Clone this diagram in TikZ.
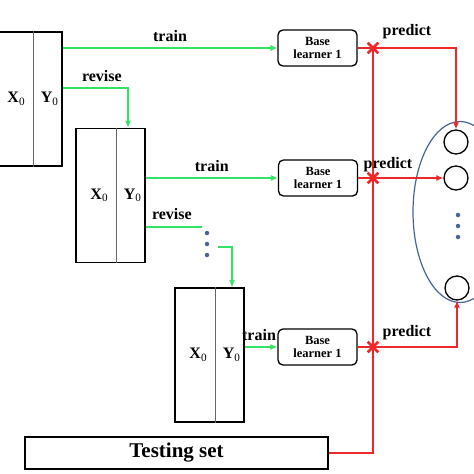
\documentclass[tikz,border=0pt]{standalone}
\usepackage{fontspec}
\setmainfont{Liberation Serif}
\usetikzlibrary{shapes.geometric,shapes.misc,arrows.meta}
\definecolor{trngreen}{RGB}{50,228,100}
\definecolor{predred}{RGB}{238,40,40}
\definecolor{ensblue}{RGB}{72,100,150}
\newcommand{\lblsize}{\fontsize{16}{18}\selectfont}

\begin{document}
\begin{tikzpicture}[x=1pt, y=-1pt, >={Latex[length=7pt,width=6pt]}]
    \tikzstyle{every node} = [font=\bfseries]
    \tikzstyle{data} = [draw, line width=1.4pt, minimum width=69pt, minimum height=134pt, inner sep=0]
    \tikzstyle{divider} = [draw=black!60, line width=1pt]
    \tikzstyle{var} = [font=\bfseries\lblsize, inner sep=0]
    \tikzstyle{learner} = [draw, rounded corners=5pt, line width=1.3pt, align=center, minimum width=79pt, minimum height=36pt, inner sep=1pt, font=\bfseries\fontsize{12.5}{13}\selectfont]
    \tikzstyle{tag} = [font=\bfseries\lblsize, inner sep=0, text=black]
    \tikzstyle{trn} = [->, draw=trngreen, line width=1.3pt]
    \tikzstyle{pred} = [draw=predred, line width=1.3pt]
    \tikzstyle{hit} = [cross out, draw=predred, line width=2.6pt, minimum size=8pt, inner sep=0]
    \tikzstyle{outnode} = [circle, draw, line width=1.3pt, minimum size=24pt, inner sep=0]
    \tikzstyle{bullet} = [circle, fill=ensblue, minimum size=4.5pt, inner sep=0]
    \useasboundingbox (0,0) rectangle (474,474);

    % training sets
    \node (d1) [data] at (27.5,99) {};
    \node (d2) [data] at (110.5,195.5) {};
    \node (d3) [data] at (209.5,355) {};
    \foreach \d in {d1,d2,d3} {
      \draw [divider] ([xshift=41pt]\d.north west) -- ([xshift=41pt]\d.south west);
      \node [var] at ([xshift=24pt]\d.west) {X\textsubscript{\mdseries 0}};
      \node [var] at ([xshift=-13pt]\d.east) {Y\textsubscript{\mdseries 0}};
    }

    % base learners
    \node (bl1) [learner] at (317.5,48) {Base\\learner 1};
    \node (bl2) [learner] at (318,178) {Base\\learner 1};
    \node (bl3) [learner] at (317.5,347) {Base\\learner 1};

    \node (test) [draw, line width=1.4pt, minimum width=303pt, minimum height=32pt, font=\bfseries\fontsize{21}{24}\selectfont] at (176.5,453) {Testing set};

    % ensemble
    \node (ens) [ellipse, draw=ensblue, line width=1.2pt, minimum width=94pt, minimum height=181pt] at (460,212) {};
    \node (o1) [outnode] at (456,142) {};
    \node (o2) [outnode] at (456,178) {};
    \node (o3) [outnode] at (457,288) {};
    \foreach \y in {215,226,237} \node [bullet] at (458,\y) {};

    % train
    \draw [trn] (d1.east |- bl1.west) -- node[tag, above=6pt] {train} (bl1.west);
    \draw [trn] (d2.east |- bl2.west) -- node[tag, above=6pt] {train} (bl2.west);
    \draw [trn] (d3.east |- bl3.west) -- node[tag, above=6pt, xshift=-2pt] {train} (bl3.west);

    % revise
    \draw [trn] ([yshift=11pt]d1.east) -| node[tag, pos=0.3, above=6pt] {revise} ([xshift=17.5pt]d2.north);
    \coordinate (r2a) at (202,227);
    \coordinate (r2b) at (218,247);
    \draw [draw=trngreen, line width=1.3pt] ([yshift=-31.5pt]d2.east) -- node[tag, above=7pt, xshift=-2pt] {revise} (r2a);
    \foreach \y in {233,244,255} \node [bullet] at (207,\y) {};
    \draw [trn] (r2b) -| ([xshift=22.5pt]d3.north);

    % predict
    \node (hit1) [hit] at (373,48) {};
    \node (hit2) [hit] at (373,178) {};
    \node (hit3) [hit] at (373,347) {};
    \draw [pred, ->] (bl1.east) -| (o1.north);
    \draw [pred, ->] (bl2.east) -- (o2.west);
    \draw [pred, ->] (bl3.east) -| (o3.south);
    \draw [pred] (test.east) -| (hit1.center);
    \node [tag] at (407,32) {predict};
    \node [tag] at (388,165) {predict};
    \node [tag] at (407,333) {predict};
\end{tikzpicture}
\end{document}
